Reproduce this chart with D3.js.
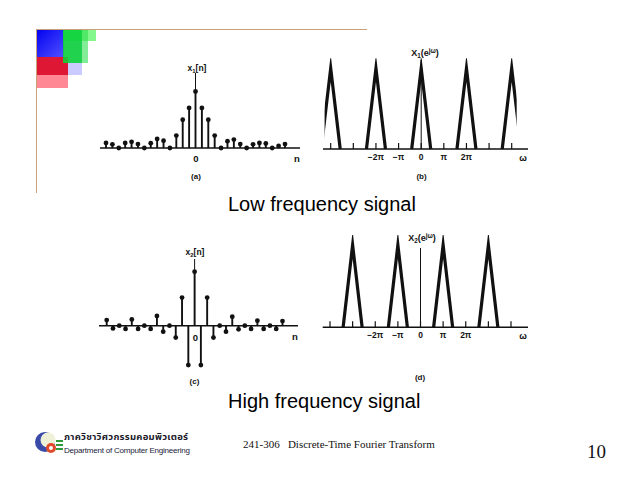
<!DOCTYPE html>
<html>
<head>
<meta charset="utf-8">
<script src="https://cdn.jsdelivr.net/npm/d3@7"></script>
<style>
  body { margin: 0; background: #fff; }
  svg { display: block; }
  text { font-family: "Liberation Sans", Arial, sans-serif; fill: #111; }
</style>
</head>
<body>
<svg id="slide" width="638" height="478"></svg>
<script>
// sample index n and the two sequences
var nIdx = [-14,-13,-12,-11,-10,-9,-8,-7,-6,-5,-4,-3,-2,-1,0,1,2,3,4,5,6,7,8,9,10,11,12,13,14];
var x1 = [0.09,0.065,0,0.09,0.11,0.07,0,0.085,0.16,0.13,0,0.22,0.50,0.71,1.00,0.71,0.50,0.22,0,0.12,0.15,0.07,0,0.065,0.09,0.08,0,0.035,0.07];
var x2 = [0.105,-0.05,0,-0.06,0.117,-0.06,0,-0.06,0.18,-0.11,0,-0.22,0.52,-0.73,1.00,-0.73,0.52,-0.22,0,-0.11,0.167,-0.068,0,-0.06,0.093,-0.06,0,-0.06,0.086];

// frequency axis, in units of pi
var omegaTicks = [-4,-3,-2,-1,0,1,2,3,4];
var omegaLabels = ['−2π','−π','0','π','2π'];
var omegaLabelAt = [-2,-1,0,1,2];
var peaksLow = [-4,-2,0,2,4];
var peaksHigh = [-3,-1,1,3];
var halfWidth = 0.42;

var svg = d3.select('#slide');
svg.append('rect').attr('width', 638).attr('height', 478).attr('fill', '#fff');

// corner decoration
var deco = svg.append('g');
deco.append('rect').attr('x', 36).attr('y', 29).attr('width', 46).attr('height', 46).attr('fill', '#6a6aff').attr('opacity', 0.35);
deco.append('rect').attr('x', 36).attr('y', 57).attr('width', 32).attr('height', 31).attr('fill', '#ff6070').attr('opacity', 0.75);
deco.append('rect').attr('x', 36).attr('y', 57).attr('width', 32).attr('height', 18).attr('fill', '#d8001c').attr('opacity', 0.8);
var blueGrad = svg.append('defs').append('linearGradient').attr('id', 'bg')
  .attr('x1', 0).attr('y1', 0).attr('x2', 1).attr('y2', 1);
blueGrad.append('stop').attr('offset', 0).attr('stop-color', '#0000f0');
blueGrad.append('stop').attr('offset', 1).attr('stop-color', '#5050ff');
deco.append('rect').attr('x', 36).attr('y', 29).attr('width', 28).attr('height', 28).attr('fill', 'url(#bg)');
deco.append('rect').attr('x', 63).attr('y', 29).attr('width', 33).attr('height', 12).attr('fill', '#30f040').attr('opacity', 0.6);
deco.append('rect').attr('x', 63).attr('y', 29).attr('width', 25).attr('height', 34).attr('fill', '#30e050').attr('opacity', 0.6);
deco.append('rect').attr('x', 63).attr('y', 29).attr('width', 19).attr('height', 34).attr('fill', '#00d030').attr('opacity', 0.7);

// frame lines
svg.append('line').attr('x1', 36).attr('y1', 29.5).attr('x2', 367).attr('y2', 29.5)
  .attr('stroke', '#c8a07c').attr('stroke-width', 1);
svg.append('line').attr('x1', 36.5).attr('y1', 29).attr('x2', 36.5).attr('y2', 193)
  .attr('stroke', '#c8a07c').attr('stroke-width', 1);

function label(g, x, y, size, parts, anchor) {
  var t = g.append('text').attr('x', x).attr('y', y)
    .attr('font-size', size).attr('text-anchor', anchor || 'middle');
  parts.forEach(function(p) {
    t.append('tspan').text(p[0])
      .attr('font-size', p[1] ? size * 0.7 : size)
      .attr('dy', p[2] || 0);
  });
  return t;
}

function stemPanel(data, o) {
  var g = svg.append('g');
  var x = d3.scaleLinear().domain([-14, 14]).range([o.x0, o.x1]);
  var y = d3.scaleLinear().domain([0, 1]).range([o.base, o.top]);

  g.append('line').attr('x1', o.left).attr('x2', o.right)
    .attr('y1', y(0)).attr('y2', y(0)).attr('stroke', '#111').attr('stroke-width', 1.4);
  g.append('line').attr('x1', x(0)).attr('x2', x(0))
    .attr('y1', y(0)).attr('y2', o.axisTop).attr('stroke', '#111').attr('stroke-width', 1);

  g.selectAll('.stem').data(data).enter().append('line')
    .attr('x1', (d, i) => x(nIdx[i])).attr('x2', (d, i) => x(nIdx[i]))
    .attr('y1', y(0)).attr('y2', d => y(d))
    .attr('stroke', '#111').attr('stroke-width', 1.9);
  g.selectAll('.dot').data(data).enter().append('circle')
    .attr('cx', (d, i) => x(nIdx[i])).attr('cy', d => y(d))
    .attr('r', 2.4).attr('fill', '#111');
  return {g: g, x: x, y: y};
}

function spectrumPanel(peaks, o) {
  var g = svg.append('g');
  var x = d3.scaleLinear().domain([-4, 4]).range([o.x0, o.x1]);
  var y = d3.scaleLinear().domain([0, 1]).range([o.base, o.top]);

  g.append('clipPath').attr('id', o.id).append('rect')
    .attr('x', x(o.clip[0])).attr('width', x(o.clip[1]) - x(o.clip[0]))
    .attr('y', o.top - 10).attr('height', o.base - o.top + 12);

  g.append('line').attr('x1', o.left).attr('x2', o.right)
    .attr('y1', y(0)).attr('y2', y(0)).attr('stroke', '#111').attr('stroke-width', 1.4);
  g.selectAll('.tick').data(omegaTicks).enter().append('line')
    .attr('x1', d => x(d)).attr('x2', d => x(d))
    .attr('y1', y(0)).attr('y2', y(0) - 6).attr('stroke', '#111').attr('stroke-width', 1.2);
  g.append('line').attr('x1', x(0)).attr('x2', x(0))
    .attr('y1', y(0)).attr('y2', o.axisTop).attr('stroke', '#111').attr('stroke-width', 1);

  var tri = d3.line().x(d => x(d[0])).y(d => y(d[1]));
  g.append('g').attr('clip-path', 'url(#' + o.id + ')')
    .selectAll('path').data(peaks).enter().append('path')
    .attr('d', c => tri([[c - halfWidth, 0], [c, 1], [c + halfWidth, 0]]))
    .attr('fill', 'none').attr('stroke', '#111').attr('stroke-width', 3.2)
    .attr('stroke-linejoin', 'miter').attr('stroke-miterlimit', 20);

  g.selectAll('.tl').data(omegaLabels).enter().append('text')
    .attr('x', (d, i) => x(omegaLabelAt[i])).attr('y', o.labelY)
    .attr('text-anchor', 'middle').attr('font-size', 8.5).attr('font-weight', 'bold').text(d => d);
  g.append('text').attr('x', o.right - 5).attr('y', o.labelY + 1)
    .attr('text-anchor', 'middle').attr('font-size', 9).attr('font-weight', 'bold').text('ω');
  return {g: g, x: x, y: y};
}

// (a) low frequency sequence
var a = stemPanel(x1, {x0: 106, x1: 285, base: 148, top: 91.5, left: 100, right: 300, axisTop: 73});
label(a.g, 197, 71, 8.5, [['x'], ['1', true, 2], ['[n]', false, -2]]).attr('font-weight', 'bold');
label(a.g, 196, 162, 9.5, [['0']]).attr('font-weight', 'bold');
label(a.g, 297, 162, 9.5, [['n']]).attr('font-weight', 'bold');
label(a.g, 196, 179, 8, [['(a)']]).attr('font-weight', 'bold');

// (b) its spectrum
var b = spectrumPanel(peaksLow, {id: 'clipB', x0: 330.7, x1: 511.7, base: 149, top: 68.3,
  left: 323, right: 528, axisTop: 60, labelY: 160, clip: [-4.27, 4.22]});
label(b.g, 425, 56, 9, [['X'], ['1', true, 2], ['(e', false, -2], ['jω', true, -3], [')', false, 3]]).attr('font-weight', 'bold');
label(b.g, 421.5, 179, 8, [['(b)']]).attr('font-weight', 'bold');

// (c) high frequency sequence
var c = stemPanel(x2, {x0: 106.7, x1: 282.5, base: 325.7, top: 271.7, left: 99, right: 298, axisTop: 259});
label(c.g, 195, 255, 8.5, [['x'], ['2', true, 2], ['[n]', false, -2]]).attr('font-weight', 'bold');
label(c.g, 195.5, 341, 9.5, [['0']]).attr('font-weight', 'bold');
label(c.g, 295, 340, 9.5, [['n']]).attr('font-weight', 'bold');
label(c.g, 194.5, 384, 8, [['(c)']]).attr('font-weight', 'bold');

// (d) its spectrum
var dd = spectrumPanel(peaksHigh, {id: 'clipD', x0: 330, x1: 511, base: 327.3, top: 245,
  left: 322.7, right: 528, axisTop: 248, labelY: 338, clip: [-4.5, 4.5]});
label(dd.g, 422, 241, 9, [['X'], ['2', true, 2], ['(e', false, -2], ['jω', true, -3], [')', false, 3]]).attr('font-weight', 'bold');
label(dd.g, 420, 380, 8, [['(d)']]).attr('font-weight', 'bold');

// captions
svg.append('text').attr('x', 228).attr('y', 211).attr('font-size', 20).style('fill', '#000')
  .text('Low frequency signal');
svg.append('text').attr('x', 228).attr('y', 408).attr('font-size', 20).style('fill', '#000')
  .text('High frequency signal');

// footer: logo
var logo = svg.append('g');
logo.append('circle').attr('cx', 45).attr('cy', 442).attr('r', 10).attr('fill', '#3a4aa8');
logo.append('circle').attr('cx', 48).attr('cy', 440).attr('r', 7.5).attr('fill', '#eef0d8');
logo.append('circle').attr('cx', 51).attr('cy', 448).attr('r', 5).attr('fill', '#e04a2a');
logo.append('circle').attr('cx', 51).attr('cy', 448).attr('r', 2).attr('fill', '#fff');
[0, 1, 2].forEach(function(i) {
  logo.append('rect').attr('x', 56).attr('y', 440 + i * 4).attr('width', 7).attr('height', 2)
    .attr('fill', '#2f9a3a');
});

svg.append('text').attr('x', 64).attr('y', 440).attr('font-size', 9.5).attr('font-weight', 'bold')
  .attr('textLength', 124).style('fill', '#1a1a2a')
  .style('font-family', '"Noto Sans Thai", "Noto Sans", "DejaVu Sans", sans-serif')
  .text('ภาควิชาวิศวกรรมคอมพิวเตอร์');
svg.append('text').attr('x', 64).attr('y', 453).attr('font-size', 8)
  .attr('textLength', 126).style('fill', '#1a1a3a')
  .text('Department of Computer Engineering');

svg.append('text').attr('x', 243).attr('y', 447.5).attr('font-size', 11)
  .style('font-family', '"Liberation Serif", "Times New Roman", serif')
  .style('white-space', 'pre').attr('xml:space', 'preserve')
  .text('241-306   Discrete-Time Fourier Transform');
svg.append('text').attr('x', 587).attr('y', 458).attr('font-size', 19)
  .style('font-family', '"Liberation Serif", "Times New Roman", serif')
  .text('10');
</script>
</body>
</html>
